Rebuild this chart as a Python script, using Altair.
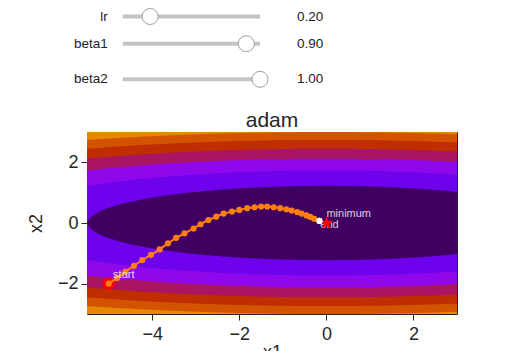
import altair as alt
import numpy as np
import pandas as pd

# ---------------- data ----------------
# objective f(x1, x2) = c0*x1^2 + c1*x2^2 and its filled-contour levels
coef = [0.1, 2.0]
levels = [24, 21, 18, 15, 12, 9, 6, 3]
level_colors = ["#f7d200", "#e68900", "#d35300", "#bf2d00",
                "#a91562", "#8f08ec", "#6e02ec", "#400062"]

# optimisation trajectory
path_x1 = [-5.0, -4.81, -4.62, -4.42, -4.23, -4.03, -3.83, -3.64, -3.45, -3.26,
           -3.05, -2.89, -2.71, -2.53, -2.36, -2.17, -2.0, -1.82, -1.65, -1.50,
           -1.36, -1.21, -1.06, -0.92, -0.80, -0.67, -0.57, -0.46, -0.37, -0.28,
           -0.16]
path_x2 = [-2.0, -1.81, -1.61, -1.41, -1.22, -1.05, -0.87, -0.67, -0.49, -0.34,
           -0.18, -0.04, 0.10, 0.21, 0.31, 0.38, 0.43, 0.49, 0.52, 0.54,
           0.54, 0.52, 0.49, 0.45, 0.41, 0.36, 0.31, 0.25, 0.20, 0.14,
           0.07]

minimum_x1 = [0.0]
minimum_x2 = [0.0]

label_text = ["start", "minimum", "end"]
label_x1 = [-4.9, 0.0, -0.14]
label_x2 = [-1.8, 0.2, -0.15]

title_text = ["adam"]

slider_names = ["lr", "beta1", "beta2"]
slider_values = [0.20, 0.90, 1.00]
slider_min = [0.0, 0.0, 0.0]
slider_max = [1.0, 1.0, 1.0]

# ---------------- tables ----------------
gx = np.linspace(-5.5, 3.0, 171)
rows = []
for L in levels:
    h = np.sqrt(np.clip((L - coef[0] * gx ** 2) / coef[1], 0, None))
    h = np.minimum(h, 3.0)
    for xv, hv in zip(gx, h):
        rows.append({"level": L, "x1": float(xv), "lo": float(-hv), "hi": float(hv)})
contour_df = pd.DataFrame(rows)

path_df = pd.DataFrame({"step": range(len(path_x1)), "x1": path_x1, "x2": path_x2})
start_df = path_df.iloc[[0]]
end_df = path_df.iloc[[-1]]
min_df = pd.DataFrame({"x1": minimum_x1, "x2": minimum_x2})
label_df = pd.DataFrame({"text": label_text, "x1": label_x1, "x2": label_x2})
title_df = pd.DataFrame({"t": title_text})

slider_df = pd.DataFrame({
    "row": range(len(slider_names)),
    "name": slider_names,
    "value": slider_values,
    "lo": slider_min,
    "hi": slider_max,
    "label": [f"{v:.2f}" for v in slider_values],
})

W, H = 370, 182
FONT = "Liberation Sans"
STAR = ("M 0 -1 L 0.2245 -0.309 L 0.951 -0.309 L 0.363 0.118 L 0.588 0.809 L 0 0.382 "
        "L -0.588 0.809 L -0.363 0.118 L -0.951 -0.309 L -0.2245 -0.309 Z")
xscale = alt.Scale(domain=[-5.5, 3.0], nice=False, zero=False)
yscale = alt.Scale(domain=[-3.0, 3.0], nice=False, zero=False)
xaxis = alt.Axis(values=[-4, -2, 0, 2], title="x1")
yaxis = alt.Axis(values=[-2, 0, 2], title="x2")

layers = []
for L, c in zip(levels, level_colors):
    layers.append(
        alt.Chart(contour_df)
        .transform_filter(alt.datum.level == L)
        .mark_area(color=c, interpolate="linear", clip=True, opacity=1)
        .encode(
            x=alt.X("x1:Q", scale=xscale, axis=xaxis),
            y=alt.Y("lo:Q", scale=yscale, axis=yaxis),
            y2="hi:Q",
        )
    )

xe = alt.X("x1:Q", scale=xscale, axis=xaxis)
ye = alt.Y("x2:Q", scale=yscale, axis=yaxis)

start_mark = alt.Chart(start_df).mark_circle(color="#ff0000", size=150, opacity=1).encode(x=xe, y=ye)
line = alt.Chart(path_df).mark_line(color="#ff7f0e", strokeWidth=2).encode(x=xe, y=ye, order="step:Q")
dots = alt.Chart(path_df).mark_circle(color="#ff7f0e", size=38, opacity=1).encode(x=xe, y=ye)
texts = alt.Chart(label_df).mark_text(
    align="left", baseline="alphabetic", fontSize=11, font=FONT, color="#ffffff", opacity=0.8
).encode(x=xe, y=ye, text="text:N")
star = alt.Chart(min_df).mark_point(
    shape=STAR, filled=True, fill="#ff0000", stroke="#ff0000", strokeWidth=0.5,
    size=170, opacity=1
).encode(x=xe, y=ye)
end_mark = alt.Chart(end_df).mark_circle(color="#ffffff", size=40, opacity=1).encode(x=xe, y=ye)

# plot title (drawn as text so that the widgets above do not push it away)
title = alt.Chart(title_df).mark_text(
    align="center", baseline="alphabetic", fontSize=21, font=FONT, color="#262626"
).encode(x=alt.value(W / 2), y=alt.value(-5), text="t:N")

# ---------------- slider widgets (drawn above the plot, in pixels) ----------------
TRACK_X0, TRACK_W = 35.7, 137.3          # track geometry relative to plot left
ROW_Y = "[-115.5, -88.3, -52.7]"         # row centres relative to plot top
sbase = alt.Chart(slider_df).transform_calculate(
    px0=f"{TRACK_X0}",
    px1=f"{TRACK_X0 + TRACK_W}",
    pk=f"{TRACK_X0} + (datum.value - datum.lo) / (datum.hi - datum.lo) * {TRACK_W}",
    py=f"{ROW_Y}[datum.row]",
)
track = sbase.mark_rule(color="#c4c4c4", strokeWidth=4).encode(
    x=alt.X("px0:Q", scale=None), x2="px1:Q", y=alt.Y("py:Q", scale=None))
knob = sbase.mark_point(shape="circle", filled=True, fill="#ffffff", stroke="#a0a0a0",
                        strokeWidth=1, size=256, opacity=1).encode(
    x=alt.X("pk:Q", scale=None), y=alt.Y("py:Q", scale=None))
names = sbase.mark_text(align="right", baseline="middle", dx=-15, fontSize=13.5,
                        font=FONT, color="#222222").encode(
    x=alt.X("px0:Q", scale=None), y=alt.Y("py:Q", scale=None), text="name:N")
vals = sbase.mark_text(align="left", baseline="middle", dx=37, fontSize=13.5,
                       font=FONT, color="#222222").encode(
    x=alt.X("px1:Q", scale=None), y=alt.Y("py:Q", scale=None), text="label:N")

chart = (
    alt.layer(*layers, start_mark, line, dots, texts, star, end_mark, title,
              track, knob, names, vals)
    .properties(
        width=W, height=H,
        autosize=alt.AutoSizeParams(type="none"),
        padding={"left": 79, "top": 124, "right": 56, "bottom": 37},
    )
    .configure_view(stroke="#262626", strokeWidth=1)
    .configure_axis(
        domain=False, grid=False, ticks=True, tickSize=6, tickColor="#262626",
        labelFont=FONT, labelFontSize=18, labelColor="#262626", labelPadding=3,
        titleFont=FONT, titleFontSize=18, titleFontWeight="normal", titleColor="#262626",
    )
    .configure_axisY(titlePadding=12, labelPadding=3)
    .configure_axisX(titlePadding=0, labelPadding=5)
)

chart.save("out.html", embed_options={"renderer": "svg", "actions": False})
